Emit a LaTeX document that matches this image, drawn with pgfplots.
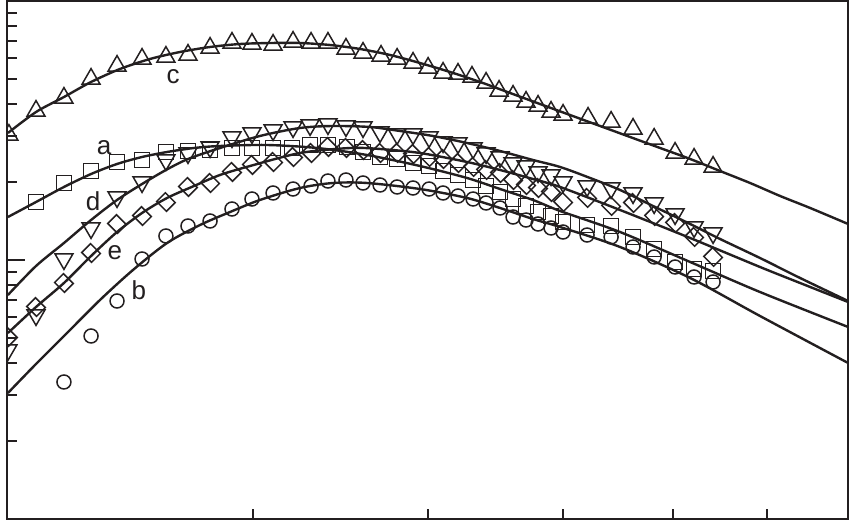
\documentclass[border=0pt]{standalone}
\usepackage{pgfplots}
\pgfplotsset{compat=1.18}
\usepackage{fontspec}
\setmainfont{Liberation Sans}
\definecolor{ink}{HTML}{231F20}
\begin{document}
\begin{tikzpicture}
\begin{axis}[
  scale only axis, width=420.5pt, height=259pt,
  xmin=0.30103, xmax=0.90309, ymin=0, ymax=2,
  axis line style={line width=1.2pt, draw=ink},
  xtick={0.30103}, ytick={1},
  minor xtick={0.47712,0.60206,0.69897,0.77815,0.84510},
  minor ytick={0.3010,0.4771,0.6021,0.6990,0.7782,0.8451,0.9031,0.9542,1.3010,1.4771,1.6021,1.6990,1.7782,1.8451,1.9031,1.9542},
  xticklabels={}, yticklabels={},
  tick pos=left, tick align=inside,
  major tick length=9pt, minor tick length=4.8pt,
  every tick/.style={draw=ink, line width=1pt},
  clip marker paths=true,
  curve/.style={ink, line width=1.2pt, smooth, no marks},
  pts/.style={ink, only marks},
]
\coordinate (bl) at (rel axis cs:0,0);
\coordinate (tr) at (rel axis cs:1,1);
% ---------- fitted curves ----------
% c
\addplot[curve] coordinates {(0.3017,1.4903)(0.3218,1.5714)(0.3418,1.6293)(0.3612,1.6873)(0.3819,1.7375)(0.4034,1.7761)(0.4249,1.8031)(0.4464,1.8224)(0.4678,1.8340)(0.4893,1.8378)(0.5108,1.8378)(0.5323,1.8301)(0.5538,1.8147)(0.5753,1.7915)(0.5967,1.7606)(0.6182,1.7259)(0.6397,1.6873)(0.6612,1.6448)(0.6826,1.6023)(0.7041,1.5598)(0.7256,1.5174)(0.7471,1.4749)(0.7686,1.4324)(0.7901,1.3900)(0.8115,1.3436)(0.8330,1.2973)(0.8545,1.2471)(0.8760,1.2008)(0.9032,1.1390)};
% a
\addplot[curve] coordinates {(0.3017,1.1660)(0.3218,1.2239)(0.3418,1.2819)(0.3612,1.3320)(0.3798,1.3707)(0.3977,1.3977)(0.4156,1.4170)(0.4349,1.4324)(0.4535,1.4402)(0.4872,1.4440)(0.5230,1.4324)(0.5588,1.4054)(0.5967,1.3629)(0.6304,1.3166)(0.6540,1.2741)(0.6776,1.2317)(0.6970,1.1892)(0.7399,1.1081)(0.7901,0.9923)(0.8401,0.8764)(0.9032,0.7413)};
% d
\addplot[curve] coordinates {(0.3017,0.8649)(0.3218,0.9768)(0.3418,1.0656)(0.3612,1.1544)(0.3798,1.2317)(0.3977,1.2934)(0.4148,1.3475)(0.4306,1.3900)(0.4535,1.4324)(0.4821,1.4788)(0.5108,1.5097)(0.5344,1.5174)(0.5609,1.5135)(0.5824,1.4981)(0.6060,1.4788)(0.6304,1.4517)(0.6540,1.4208)(0.6776,1.3861)(0.6970,1.3591)(0.7185,1.3166)(0.7399,1.2703)(0.7650,1.2046)(0.7901,1.1390)(0.8115,1.0811)(0.8401,1.0077)(0.8688,0.9305)(0.9032,0.8417)};
% e
\addplot[curve] coordinates {(0.3017,0.7181)(0.3218,0.8185)(0.3418,0.9112)(0.3612,1.0154)(0.3798,1.1081)(0.3977,1.1815)(0.4156,1.2394)(0.4349,1.2857)(0.4535,1.3282)(0.4750,1.3629)(0.5108,1.4131)(0.5466,1.4324)(0.5681,1.4286)(0.5967,1.4131)(0.6304,1.3784)(0.6540,1.3475)(0.6776,1.3127)(0.6970,1.2819)(0.7399,1.1931)(0.7901,1.0849)(0.8401,0.9730)(0.8688,0.9112)(0.9032,0.8378)};
% b
\addplot[curve] coordinates {(0.3017,0.4865)(0.3218,0.5985)(0.3440,0.7181)(0.3676,0.8456)(0.3912,0.9614)(0.4156,1.0656)(0.4392,1.1351)(0.4607,1.1853)(0.4821,1.2317)(0.5108,1.2780)(0.5344,1.2973)(0.5588,1.2973)(0.5967,1.2741)(0.6304,1.2394)(0.6540,1.2008)(0.6776,1.1583)(0.6970,1.1274)(0.7399,1.0502)(0.7901,0.9305)(0.8401,0.7838)(0.9032,0.6023)};
% ---------- data points ----------
% c : up triangles
\addplot[pts, mark=triangle, mark size=5.2pt, mark options={line width=0.75pt, draw=ink}] coordinates {(0.3024,1.4826)(0.3218,1.5753)(0.3418,1.6255)(0.3612,1.6988)(0.3798,1.7490)(0.3977,1.7761)(0.4148,1.7838)(0.4306,1.7915)(0.4464,1.8185)(0.4621,1.8378)(0.4764,1.8340)(0.4915,1.8301)(0.5058,1.8417)(0.5187,1.8378)(0.5308,1.8378)(0.5437,1.8147)(0.5559,1.7992)(0.5688,1.7876)(0.5803,1.7761)(0.5917,1.7606)(0.6025,1.7413)(0.6132,1.7220)(0.6239,1.7181)(0.6339,1.7066)(0.6440,1.6834)(0.6533,1.6525)(0.6633,1.6332)(0.6726,1.6100)(0.6812,1.5946)(0.6905,1.5714)(0.6991,1.5598)(0.7170,1.5483)(0.7335,1.5328)(0.7492,1.5058)(0.7643,1.4672)(0.7793,1.4131)(0.7929,1.3900)(0.8065,1.3591)};
% a : squares
\addplot[pts, mark=square, mark size=3.7pt, mark options={line width=0.75pt, draw=ink}] coordinates {(0.3010,1.1622)(0.3218,1.2239)(0.3418,1.2973)(0.3612,1.3436)(0.3798,1.3784)(0.3977,1.3861)(0.4148,1.4170)(0.4306,1.4208)(0.4464,1.4247)(0.4621,1.4324)(0.4764,1.4324)(0.4915,1.4324)(0.5051,1.4324)(0.5180,1.4440)(0.5308,1.4440)(0.5445,1.4363)(0.5559,1.4170)(0.5681,1.3977)(0.5803,1.3900)(0.5917,1.3745)(0.6032,1.3629)(0.6132,1.3436)(0.6239,1.3282)(0.6347,1.3089)(0.6440,1.2857)(0.6540,1.2625)(0.6633,1.2355)(0.6726,1.2085)(0.6812,1.1853)(0.6905,1.1699)(0.6991,1.1467)(0.7163,1.1351)(0.7335,1.1313)(0.7492,1.0888)(0.7643,1.0425)(0.7793,0.9923)(0.7929,0.9653)(0.8065,0.9575)};
% d : down triangles
\addplot[pts, mark=triangle, mark size=5.2pt, mark options={line width=0.75pt, draw=ink, rotate=180}] coordinates {(0.3017,0.6525)(0.3218,0.7876)(0.3418,1.0039)(0.3612,1.1236)(0.3798,1.2432)(0.3977,1.3012)(0.4148,1.3861)(0.4306,1.4131)(0.4464,1.4363)(0.4621,1.4749)(0.4764,1.4903)(0.4915,1.5019)(0.5058,1.5135)(0.5180,1.5212)(0.5308,1.5251)(0.5437,1.5174)(0.5559,1.5135)(0.5681,1.4942)(0.5803,1.4865)(0.5917,1.4865)(0.6032,1.4749)(0.6132,1.4556)(0.6239,1.4517)(0.6347,1.4324)(0.6440,1.4131)(0.6540,1.3977)(0.6633,1.3745)(0.6726,1.3629)(0.6812,1.3398)(0.6905,1.3282)(0.6991,1.3012)(0.7163,1.2857)(0.7335,1.2780)(0.7492,1.2587)(0.7643,1.2201)(0.7793,1.1776)(0.7929,1.1274)(0.8065,1.1042)};
% e : diamonds
\addplot[pts, mark=square, mark size=3.1pt, mark options={line width=0.75pt, draw=ink, rotate=45, yscale=1.12}] coordinates {(0.3017,0.7027)(0.3218,0.8185)(0.3418,0.9112)(0.3612,1.0270)(0.3798,1.1390)(0.3977,1.1699)(0.4148,1.2239)(0.4306,1.2819)(0.4464,1.2973)(0.4621,1.3398)(0.4764,1.3668)(0.4915,1.3784)(0.5058,1.3977)(0.5187,1.4131)(0.5308,1.4363)(0.5437,1.4324)(0.5559,1.4247)(0.5681,1.4131)(0.5803,1.4131)(0.5917,1.4093)(0.6032,1.3977)(0.6132,1.3900)(0.6239,1.3745)(0.6347,1.3591)(0.6440,1.3475)(0.6540,1.3359)(0.6633,1.3089)(0.6726,1.2896)(0.6812,1.2780)(0.6905,1.2625)(0.6991,1.2239)(0.7163,1.2394)(0.7335,1.2085)(0.7492,1.2201)(0.7643,1.1699)(0.7793,1.1429)(0.7929,1.0888)(0.8065,1.0116)};
% b : circles
\addplot[pts, mark=o, mark size=3.5pt, mark options={line width=0.75pt, draw=ink}] coordinates {(0.3418,0.5290)(0.3612,0.7066)(0.3798,0.8417)(0.3977,1.0039)(0.4148,1.0927)(0.4306,1.1313)(0.4464,1.1506)(0.4621,1.1969)(0.4764,1.2355)(0.4915,1.2587)(0.5058,1.2741)(0.5187,1.2857)(0.5308,1.3050)(0.5437,1.3089)(0.5559,1.2973)(0.5681,1.2896)(0.5803,1.2819)(0.5917,1.2780)(0.6032,1.2741)(0.6132,1.2587)(0.6239,1.2471)(0.6347,1.2355)(0.6440,1.2201)(0.6540,1.2008)(0.6633,1.1660)(0.6726,1.1544)(0.6812,1.1390)(0.6905,1.1236)(0.6991,1.1081)(0.7163,1.0965)(0.7335,1.0888)(0.7492,1.0502)(0.7643,1.0116)(0.7793,0.9730)(0.7929,0.9344)(0.8065,0.9151)};
% ---------- curve labels ----------
\begin{scope}[every node/.style={text=ink, font=\fontsize{13pt}{15pt}\selectfont, inner sep=0pt}]
\node at (axis cs:0.4199,1.7066) {c};
\node at (axis cs:0.3705,1.4324) {a};
\node at (axis cs:0.3626,1.2278) {d};
\node at (axis cs:0.3783,1.0270) {e};
\node at (axis cs:0.3955,0.8842) {b};
\end{scope}
\end{axis}
\pgfresetboundingbox
\useasboundingbox ([shift={(-3.5pt,-1pt)}]bl) rectangle ([shift={(1pt,0.5pt)}]tr);
\end{tikzpicture}
\end{document}
